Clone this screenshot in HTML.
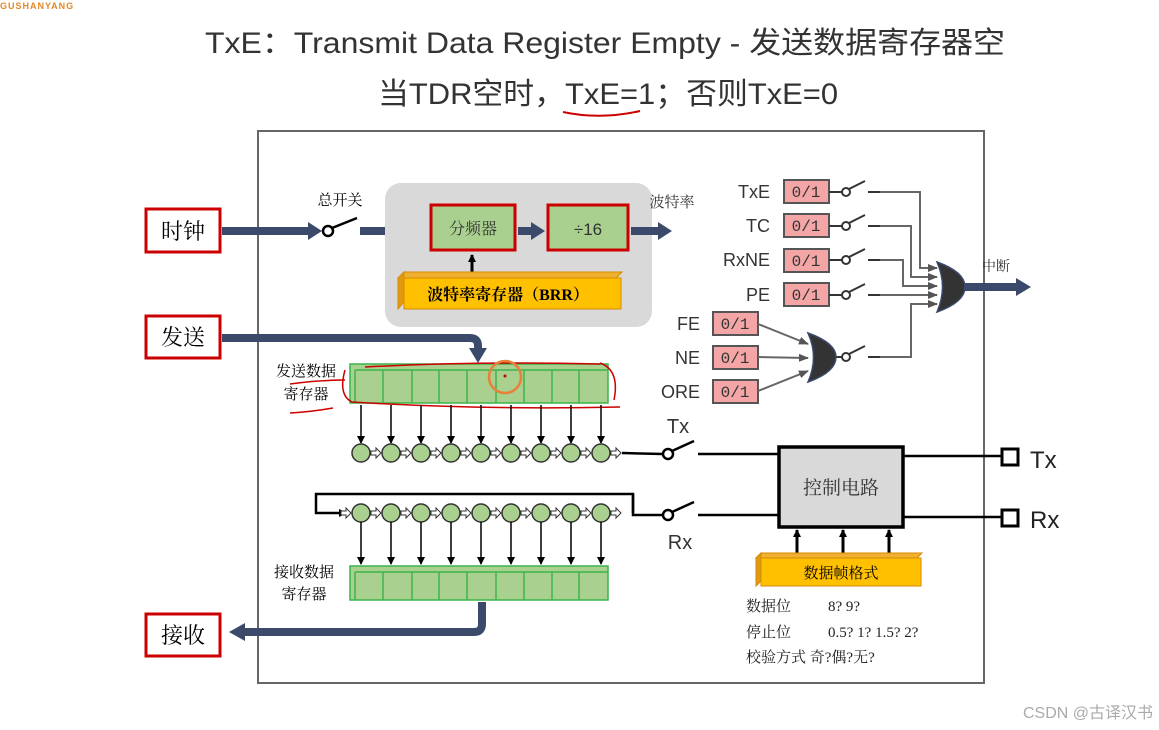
<!DOCTYPE html>
<html><head><meta charset="utf-8"><style>
html,body{margin:0;padding:0;background:#fff;width:1159px;height:730px;overflow:hidden}
svg{display:block}
.cn{font-family:"Liberation Serif","Noto Serif CJK SC",serif}
.sa{font-family:"Liberation Sans","Noto Sans CJK SC",sans-serif}
.mono{font-family:"Liberation Mono",monospace}
</style></head><body>
<svg width="1159" height="730" viewBox="0 0 1159 730" xmlns="http://www.w3.org/2000/svg">
<defs>
<marker id="ah" markerWidth="8" markerHeight="8" refX="7" refY="4" orient="auto" markerUnits="userSpaceOnUse"><path d="M0,0 L8,4 L0,8 z" fill="#000"/></marker>
<marker id="ag" markerWidth="10" markerHeight="8" refX="9" refY="4" orient="auto" markerUnits="userSpaceOnUse"><path d="M0,0 L10,4 L0,8 z" fill="#555"/></marker>
<marker id="ab" markerWidth="14" markerHeight="18" refX="1" refY="9" orient="auto" markerUnits="userSpaceOnUse"><path d="M0,0 L14,9 L0,18 z" fill="#3b4a6b"/></marker>
</defs>
<text x="0" y="9" font-size="9" fill="#e08a2a" class="sa" font-weight="bold" letter-spacing="1">GUSHANYANG</text>
<text x="605" y="53" font-size="30" fill="#333" class="sa" text-anchor="middle" textLength="800" lengthAdjust="spacingAndGlyphs">TxE：Transmit Data Register Empty - 发送数据寄存器空</text>
<text x="608" y="104" font-size="30" fill="#333" class="sa" text-anchor="middle" textLength="460" lengthAdjust="spacingAndGlyphs">当TDR空时，TxE=1；否则TxE=0</text>
<path d="M563,112 Q600,120 640,111" stroke="#c00" stroke-width="2" fill="none"/>

<rect x="258" y="131" width="726" height="552" fill="#fff" stroke="#666" stroke-width="2"/>

<rect x="146" y="209" width="74" height="43" fill="#fff" stroke="#c00" stroke-width="3"/>
<text x="183" y="239" font-size="22" class="cn" text-anchor="middle">时钟</text>
<rect x="146" y="316" width="74" height="42" fill="#fff" stroke="#c00" stroke-width="3"/>
<text x="183" y="345" font-size="22" class="cn" text-anchor="middle">发送</text>
<rect x="146" y="614" width="74" height="42" fill="#fff" stroke="#c00" stroke-width="3"/>
<text x="183" y="643" font-size="22" class="cn" text-anchor="middle">接收</text>

<line x1="222" y1="231" x2="309" y2="231" stroke="#3b4a6b" stroke-width="8" marker-end="url(#ab)"/>
<circle cx="328" cy="231" r="5" fill="#fff" stroke="#000" stroke-width="2.5"/>
<line x1="332" y1="228" x2="357" y2="218" stroke="#000" stroke-width="2.5"/>
<text x="340" y="205" font-size="15" class="cn" text-anchor="middle">总开关</text>
<line x1="360" y1="231" x2="414" y2="231" stroke="#3b4a6b" stroke-width="8" marker-end="url(#ab)"/>
<rect x="385" y="183" width="267" height="144" rx="16" fill="#d9d9d9"/>
<rect x="431" y="205" width="84" height="45" fill="#a9d08e" stroke="#c00" stroke-width="3"/>
<text x="473" y="234" font-size="16" class="cn" text-anchor="middle" fill="#333">分频器</text>
<line x1="518" y1="231" x2="532" y2="231" stroke="#3b4a6b" stroke-width="8" marker-end="url(#ab)"/>
<rect x="548" y="205" width="80" height="45" fill="#a9d08e" stroke="#c00" stroke-width="3"/>
<text x="588" y="235" font-size="17" class="sa" text-anchor="middle" fill="#333">÷16</text>
<line x1="631" y1="231" x2="659" y2="231" stroke="#3b4a6b" stroke-width="8" marker-end="url(#ab)"/>
<text x="672" y="207" font-size="15" class="cn" text-anchor="middle" fill="#333">波特率</text>
<line x1="472" y1="272" x2="472" y2="255" stroke="#000" stroke-width="3" marker-end="url(#ah)"/>
<path d="M398,278 L404,272 L622,272 L616,278 z" fill="#f0b030" stroke="#d88a00"/>
<path d="M398,278 L404,272 L404,302 L398,309 z" fill="#e09a10" stroke="#d88a00"/>
<rect x="404" y="278" width="217" height="31" fill="#ffc000" stroke="#d88a00"/>
<text x="508" y="300" font-size="16" class="cn" text-anchor="middle" font-weight="bold">波特率寄存器（BRR）</text>

<path d="M222,338 L470,338 Q478,338 478,346 L478,350" stroke="#3b4a6b" stroke-width="8" fill="none"/>
<path d="M469,348 L487,348 L478,363 z" fill="#3b4a6b"/>

<path d="M350,364 L608,364 L608,403 L350,403 z" fill="#a9d08e" stroke="#3cb44b" stroke-width="1.5"/>
<line x1="355" y1="370" x2="608" y2="370" stroke="#3cb44b" stroke-width="1.5"/>
<line x1="355" y1="370" x2="355" y2="403" stroke="#3cb44b" stroke-width="1.5"/>
<g stroke="#3cb44b" stroke-width="1.5">
<line x1="383" y1="370" x2="383" y2="403"/><line x1="412" y1="370" x2="412" y2="403"/><line x1="439" y1="370" x2="439" y2="403"/><line x1="467" y1="370" x2="467" y2="403"/><line x1="496" y1="370" x2="496" y2="403"/><line x1="524" y1="370" x2="524" y2="403"/><line x1="552" y1="370" x2="552" y2="403"/><line x1="579" y1="370" x2="579" y2="403"/>
</g>
<text x="306" y="376" font-size="15" class="cn" text-anchor="middle">发送数据</text>
<text x="306" y="399" font-size="15" class="cn" text-anchor="middle">寄存器</text>
<g stroke="#c00" stroke-width="1.5" fill="none">
<path d="M365,367 Q480,361 600,364"/>
<path d="M345,370 Q338,395 352,402 Q480,410 620,407"/>
<path d="M600,363 Q620,370 614,400"/>
<path d="M290,384 Q320,380 345,380"/>
<path d="M290,413 Q310,412 333,408"/>
</g>
<circle cx="505" cy="377" r="16" fill="none" stroke="#e8803a" stroke-width="2.5"/>
<circle cx="505" cy="376" r="1.5" fill="#c00"/>

<g stroke="#000" stroke-width="1.5" marker-end="url(#ah)">
<line x1="361" y1="405" x2="361" y2="443"/><line x1="391" y1="405" x2="391" y2="443"/><line x1="421" y1="405" x2="421" y2="443"/><line x1="451" y1="405" x2="451" y2="443"/><line x1="481" y1="405" x2="481" y2="443"/><line x1="511" y1="405" x2="511" y2="443"/><line x1="541" y1="405" x2="541" y2="443"/><line x1="571" y1="405" x2="571" y2="443"/><line x1="601" y1="405" x2="601" y2="443"/>
</g>
<g fill="#a9d08e" stroke="#333" stroke-width="1.5">
<circle cx="361" cy="453" r="9"/><circle cx="391" cy="453" r="9"/><circle cx="421" cy="453" r="9"/><circle cx="451" cy="453" r="9"/><circle cx="481" cy="453" r="9"/><circle cx="511" cy="453" r="9"/><circle cx="541" cy="453" r="9"/><circle cx="571" cy="453" r="9"/><circle cx="601" cy="453" r="9"/>
</g>
<g fill="#fff" stroke="#333" stroke-width="1">
<path d="M371,451 h5 v-3 l5,5 l-5,5 v-3 h-5 z"/><path d="M401,451 h5 v-3 l5,5 l-5,5 v-3 h-5 z"/><path d="M431,451 h5 v-3 l5,5 l-5,5 v-3 h-5 z"/><path d="M461,451 h5 v-3 l5,5 l-5,5 v-3 h-5 z"/><path d="M491,451 h5 v-3 l5,5 l-5,5 v-3 h-5 z"/><path d="M521,451 h5 v-3 l5,5 l-5,5 v-3 h-5 z"/><path d="M551,451 h5 v-3 l5,5 l-5,5 v-3 h-5 z"/><path d="M581,451 h5 v-3 l5,5 l-5,5 v-3 h-5 z"/><path d="M611,451 h5 v-3 l5,5 l-5,5 v-3 h-5 z"/>
</g>
<line x1="622" y1="453" x2="663" y2="454" stroke="#000" stroke-width="2.5"/>
<circle cx="668" cy="454" r="5" fill="#fff" stroke="#000" stroke-width="2.5"/>
<line x1="672" y1="451" x2="694" y2="441" stroke="#000" stroke-width="2.5"/>
<text x="678" y="433" font-size="20" class="sa" text-anchor="middle" fill="#333">Tx</text>
<line x1="698" y1="454" x2="778" y2="454" stroke="#000" stroke-width="2.5"/>

<rect x="779" y="447" width="124" height="80" fill="#d9d9d9" stroke="#000" stroke-width="3.5"/>
<text x="841" y="494" font-size="19" class="cn" text-anchor="middle" fill="#333">控制电路</text>
<line x1="903" y1="456" x2="1001" y2="456" stroke="#000" stroke-width="2.5"/>
<rect x="1002" y="449" width="16" height="16" fill="#fff" stroke="#000" stroke-width="3"/>
<text x="1030" y="468" font-size="24" class="sa" fill="#222">Tx</text>
<line x1="903" y1="517" x2="1001" y2="517" stroke="#000" stroke-width="2.5"/>
<rect x="1002" y="510" width="16" height="16" fill="#fff" stroke="#000" stroke-width="3"/>
<text x="1030" y="528" font-size="24" class="sa" fill="#222">Rx</text>

<path d="M633,513 L633,494 L316,494 L316,513 L346,513" stroke="#000" stroke-width="2.5" fill="none" marker-end="url(#ah)"/>
<path d="M633,494 L633,515 L663,515" stroke="#000" stroke-width="2.5" fill="none"/>
<circle cx="668" cy="515" r="5" fill="#fff" stroke="#000" stroke-width="2.5"/>
<line x1="672" y1="512" x2="694" y2="502" stroke="#000" stroke-width="2.5"/>
<line x1="698" y1="515" x2="778" y2="515" stroke="#000" stroke-width="2.5"/>
<text x="680" y="549" font-size="20" class="sa" text-anchor="middle" fill="#333">Rx</text>
<g fill="#a9d08e" stroke="#333" stroke-width="1.5">
<circle cx="361" cy="513" r="9"/><circle cx="391" cy="513" r="9"/><circle cx="421" cy="513" r="9"/><circle cx="451" cy="513" r="9"/><circle cx="481" cy="513" r="9"/><circle cx="511" cy="513" r="9"/><circle cx="541" cy="513" r="9"/><circle cx="571" cy="513" r="9"/><circle cx="601" cy="513" r="9"/>
</g>
<g fill="#fff" stroke="#333" stroke-width="1">
<path d="M341,511 h5 v-3 l5,5 l-5,5 v-3 h-5 z"/><path d="M371,511 h5 v-3 l5,5 l-5,5 v-3 h-5 z"/><path d="M401,511 h5 v-3 l5,5 l-5,5 v-3 h-5 z"/><path d="M431,511 h5 v-3 l5,5 l-5,5 v-3 h-5 z"/><path d="M461,511 h5 v-3 l5,5 l-5,5 v-3 h-5 z"/><path d="M491,511 h5 v-3 l5,5 l-5,5 v-3 h-5 z"/><path d="M521,511 h5 v-3 l5,5 l-5,5 v-3 h-5 z"/><path d="M551,511 h5 v-3 l5,5 l-5,5 v-3 h-5 z"/><path d="M581,511 h5 v-3 l5,5 l-5,5 v-3 h-5 z"/><path d="M611,511 h5 v-3 l5,5 l-5,5 v-3 h-5 z"/>
</g>
<g stroke="#000" stroke-width="1.5" marker-end="url(#ah)">
<line x1="361" y1="522" x2="361" y2="564"/><line x1="391" y1="522" x2="391" y2="564"/><line x1="421" y1="522" x2="421" y2="564"/><line x1="451" y1="522" x2="451" y2="564"/><line x1="481" y1="522" x2="481" y2="564"/><line x1="511" y1="522" x2="511" y2="564"/><line x1="541" y1="522" x2="541" y2="564"/><line x1="571" y1="522" x2="571" y2="564"/><line x1="601" y1="522" x2="601" y2="564"/>
</g>
<path d="M350,566 L608,566 L608,600 L350,600 z" fill="#a9d08e" stroke="#3cb44b" stroke-width="1.5"/>
<line x1="355" y1="572" x2="608" y2="572" stroke="#3cb44b" stroke-width="1.5"/>
<g stroke="#3cb44b" stroke-width="1.5">
<line x1="355" y1="572" x2="355" y2="600"/><line x1="383" y1="572" x2="383" y2="600"/><line x1="412" y1="572" x2="412" y2="600"/><line x1="439" y1="572" x2="439" y2="600"/><line x1="467" y1="572" x2="467" y2="600"/><line x1="496" y1="572" x2="496" y2="600"/><line x1="524" y1="572" x2="524" y2="600"/><line x1="552" y1="572" x2="552" y2="600"/><line x1="579" y1="572" x2="579" y2="600"/>
</g>
<text x="304" y="577" font-size="15" class="cn" text-anchor="middle">接收数据</text>
<text x="304" y="599" font-size="15" class="cn" text-anchor="middle">寄存器</text>
<path d="M482,602 L482,624 Q482,632 474,632 L242,632" stroke="#3b4a6b" stroke-width="8" fill="none"/>
<path d="M245,623 L245,641 L229,632 z" fill="#3b4a6b"/>

<g stroke="#000" stroke-width="3" marker-end="url(#ah)">
<line x1="797" y1="553" x2="797" y2="530"/><line x1="843" y1="553" x2="843" y2="530"/><line x1="889" y1="553" x2="889" y2="530"/>
</g>
<path d="M756,558 L761,553 L922,553 L917,558 z" fill="#f0b030" stroke="#d88a00"/>
<path d="M756,558 L761,553 L761,581 L756,586 z" fill="#e09a10" stroke="#d88a00"/>
<rect x="761" y="558" width="160" height="28" fill="#ffc000" stroke="#d88a00"/>
<text x="841" y="578" font-size="15" class="cn" text-anchor="middle">数据帧格式</text>
<g font-size="15" class="cn" fill="#222">
<text x="746" y="611">数据位</text><text x="828" y="611">8? 9?</text>
<text x="746" y="637">停止位</text><text x="828" y="637">0.5? 1? 1.5? 2?</text>
<text x="746" y="662">校验方式 奇?偶?无?</text>
</g>

<g font-size="18" class="sa" fill="#333" text-anchor="end">
<text x="770" y="198">TxE</text><text x="770" y="232">TC</text><text x="770" y="266">RxNE</text><text x="770" y="301">PE</text>
<text x="700" y="330">FE</text><text x="700" y="364">NE</text><text x="700" y="398">ORE</text>
</g>
<g fill="#f4a6a6" stroke="#555" stroke-width="2">
<rect x="784" y="180" width="45" height="23"/><rect x="784" y="214" width="45" height="23"/><rect x="784" y="249" width="45" height="23"/><rect x="784" y="283" width="45" height="23"/>
<rect x="713" y="312" width="45" height="23"/><rect x="713" y="346" width="45" height="23"/><rect x="713" y="380" width="45" height="23"/>
</g>
<g font-size="16" class="mono" fill="#333" text-anchor="middle">
<text x="806" y="197">0/1</text><text x="806" y="231">0/1</text><text x="806" y="266">0/1</text><text x="806" y="300">0/1</text>
<text x="735" y="329">0/1</text><text x="735" y="363">0/1</text><text x="735" y="397">0/1</text>
</g>
<g stroke="#333" stroke-width="2" fill="#fff">
<line x1="829" y1="192" x2="842" y2="192"/><circle cx="846" cy="192" r="4"/><line x1="849" y1="189" x2="865" y2="181"/>
<line x1="829" y1="226" x2="842" y2="226"/><circle cx="846" cy="226" r="4"/><line x1="849" y1="223" x2="865" y2="215"/>
<line x1="829" y1="260" x2="842" y2="260"/><circle cx="846" cy="260" r="4"/><line x1="849" y1="257" x2="865" y2="249"/>
<line x1="829" y1="295" x2="842" y2="295"/><circle cx="846" cy="295" r="4"/><line x1="849" y1="292" x2="865" y2="284"/>
<line x1="829" y1="357" x2="842" y2="357"/><circle cx="846" cy="357" r="4"/><line x1="849" y1="354" x2="865" y2="346"/>
</g>
<g stroke="#333" stroke-width="2"><line x1="868" y1="192" x2="880" y2="192"/><line x1="868" y1="226" x2="880" y2="226"/><line x1="868" y1="260" x2="880" y2="260"/><line x1="868" y1="295" x2="880" y2="295"/><line x1="868" y1="357" x2="880" y2="357"/></g>
<g stroke="#666" stroke-width="2" fill="none" marker-end="url(#ag)">
<path d="M880,192 L920,192 L920,268 L937,268"/>
<path d="M880,226 L911,226 L911,277 L937,277"/>
<path d="M880,260 L903,260 L903,286 L937,286"/>
<path d="M880,295 L937,295"/>
<path d="M880,357 L911,357 L911,304 L937,304"/>
<path d="M758,324 L808,344"/>
<path d="M758,357 L808,358"/>
<path d="M758,391 L808,371"/>
</g>
<path d="M937,262 Q965,272 965,287 Q965,302 937,312 Q948,287 937,262 z" fill="#333" stroke="#3b4a6b" stroke-width="1.5"/>
<path d="M808,333 Q836,343 836,357 Q836,372 808,382 Q819,357 808,333 z" fill="#333" stroke="#3b4a6b" stroke-width="1.5"/>
<line x1="964" y1="287" x2="1018" y2="287" stroke="#3b4a6b" stroke-width="8"/>
<path d="M1016,278 L1031,287 L1016,296 z" fill="#3b4a6b"/>
<text x="996" y="271" font-size="14" class="cn" text-anchor="middle" fill="#333">中断</text>

<text x="1153" y="718" font-size="16" class="sa" text-anchor="end" fill="#aaa">CSDN @古译汉书</text>
</svg>
</body></html>
